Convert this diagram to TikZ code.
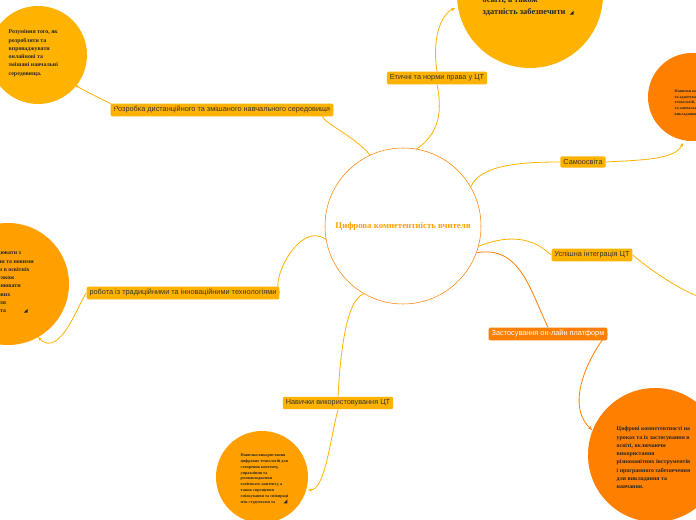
\documentclass[tikz,border=0pt]{standalone}
\usepackage{fontspec}
\usetikzlibrary{arrows.meta}
\setmainfont{Liberation Serif}
\newfontfamily\lab{Liberation Sans}
\definecolor{gold}{HTML}{FFB300}
\definecolor{amber}{HTML}{FFA000}
\definecolor{orng}{HTML}{FF7F00}
\newcommand{\cornertri}{\tikz[baseline=0pt]\fill (0,0)--(3pt,0)--(3pt,3pt)--cycle;}
\begin{document}
\begin{tikzpicture}[x=0.75pt,y=-0.75pt,
  lbl/.style={rounded corners=1pt,inner sep=2.2pt,font=\lab\fontsize{5.5}{6.5}\selectfont,text=black!80},
  ctext/.style={font=\bfseries\fontsize{4.4}{6.2}\selectfont,align=left,text=black!85},
  con/.style={line width=0.6pt,-{Stealth[length=3pt]}},
  conn/.style={line width=0.6pt}]
\useasboundingbox (0,0) rectangle (696,520);
\clip (0,0) rectangle (696,520);
\fill[white] (0,0) rectangle (696,520);
% circles
\fill[gold] (38,55) circle (49);
\fill[gold] (530,-5) circle (73);
\fill[orng] (692,97) circle (44);
\fill[amber] (8,284) circle (61);
\fill[orng] (655,455) circle (67);
\fill[amber] (262,477) circle (46);
\node[circle,draw=orng,line width=0.4pt,fill=white,minimum size=117pt] (c) at (403,226) {};
\node[text=amber,font=\bfseries\fontsize{6.6}{8}\selectfont] at (403,226) {Цифрова компетентність вчителя};
% circle texts
\node[ctext,anchor=north west] (t1) at (4,25) {Розуміння того, як\\розробляти та\\впроваджувати\\онлайнові та\\змішані навчальні\\середовища.};
\node[ctext,anchor=north west,font=\bfseries\fontsize{6.3}{9}\selectfont] (t2) at (478,-8) {освіті, а також\\здатність забезпечити \ \cornertri};
\node[ctext,anchor=north west,font=\bfseries\fontsize{3}{4.3}\selectfont] (t3) at (670,85) {Навички комунікації\\та адаптування\\технологій, будь-яких\\та навчальних\\викладання та};
\node[ctext,anchor=north west] (t4) at (-38,246) {Уміння працювати з\\традиційними та новими\\технологіями в освітніх\\процесах, а також\\здатність оцінювати\\потенціал нових\\технологій для\\викладання та\qquad\quad\cornertri};
\node[ctext,anchor=north west] (t5) at (612,422) {Цифрові компетентності на\\уроках та їх застосування в\\освіті, включаючи\\використання\\різноманітних інструментів\\і програмного забезпечення\\для викладання та\\навчання.};
\node[ctext,anchor=north west,font=\bfseries\fontsize{3.1}{4.4}\selectfont] (t6) at (236,449) {Навички використання\\цифрових технологій для\\створення контенту,\\управління та\\розповсюдження\\освітнього контенту, а\\також спрощення\\спілкування та співпраці\\між студентами та\qquad\cornertri};
% labels
\node[lbl,fill=gold] (l1) at (437,78) {Етичні та норми права у ЦТ};
\node[lbl,fill=gold] (l2) at (222,110) {Розробка дистанційного та змішаного навчального середовища};
\node[lbl,fill=gold] (l3) at (583,162) {Самоосвіта};
\node[lbl,fill=gold] (l4) at (592,255) {Успішна інтеграція ЦТ};
\node[lbl,fill=gold] (l5) at (183,293) {робота із традиційними та інноваційними технологіями};
\node[lbl,fill=orng,text=white] (l6) at (548,334) {Застосування он-лайн платформ};
\node[lbl,fill=gold] (l7) at (338,403) {Навички використовування ЦТ};
% end points
\coordinate (e1) at (455,8);
\coordinate (e2) at (75,85);
\coordinate (e3) at (683,143);
\coordinate (e4) at (700,297);
\coordinate (e5) at (38,337);
\coordinate (e6) at (592,430);
\coordinate (e7) at (308,490);
% connectors
\draw[conn,gold] (c.80) .. controls (445,130) and (440,100) .. (l1.south);
\draw[con,gold] (l1.north) .. controls (432,40) and (440,15) .. (e1);
\draw[conn,gold] (c.115) .. controls (350,130) and (300,115) .. (l2.east);
\draw[con,gold] (l2.west) .. controls (130,110) and (100,100) .. (e2);
\draw[conn,gold] (c.30) .. controls (480,165) and (520,162) .. (l3.west);
\draw[con,gold] (l3.east) .. controls (640,160) and (675,160) .. (e3);
\draw[conn,gold] (c.-15) .. controls (520,230) and (540,245) .. (l4.west);
\draw[conn,gold] (l4.east) .. controls (650,270) and (680,290) .. (e4);
\draw[conn,gold] (c.190) .. controls (300,220) and (270,280) .. (l5.east);
\draw[con,gold] (l5.west) .. controls (80,300) and (60,360) .. (e5);
\draw[conn,orng] (c.-20) .. controls (520,245) and (530,290) .. (l6.north);
\draw[con,orng] (l6.east) .. controls (600,340) and (560,400) .. (e6);
\draw[conn,gold] (c.240) .. controls (345,300) and (340,360) .. (l7.north);
\draw[con,gold] (l7.south) .. controls (330,440) and (325,490) .. (e7);
\end{tikzpicture}
\end{document}
